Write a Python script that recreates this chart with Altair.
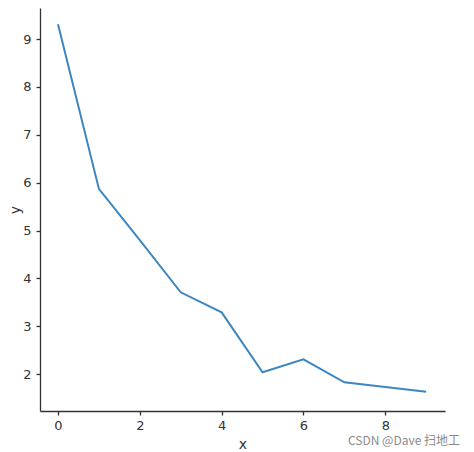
import altair as alt
import pandas as pd

xs = [0, 1, 2, 3, 4, 5, 6, 7, 8, 9]
ys = [9.31, 5.87, 4.80, 3.71, 3.29, 2.04, 2.31, 1.83, 1.73, 1.63]
x_ticks = [0, 2, 4, 6, 8]
y_ticks = [2, 3, 4, 5, 6, 7, 8, 9]
watermark = ["CSDN @Dave 扫地工"]

df = pd.DataFrame({"x": xs, "y": ys})
wm = pd.DataFrame({"t": watermark})

axis_common = dict(
    grid=False, domainColor="#333333", tickColor="#333333", labelColor="#333333",
    titleColor="#333333", labelFont="DejaVu Sans", titleFont="DejaVu Sans",
    labelFontSize=13, titleFontSize=14, titleFontWeight="normal",
    tickSize=4, domainWidth=1.3, tickWidth=1.3,
)

line = alt.Chart(df).mark_line(color="#3d86bf", strokeWidth=2).encode(
    x=alt.X("x:Q", scale=alt.Scale(domain=[-0.44, 9.46], nice=False, zero=False),
            axis=alt.Axis(values=x_ticks, labelPadding=4, titlePadding=5, **axis_common)),
    y=alt.Y("y:Q", scale=alt.Scale(domain=[1.23, 9.65], nice=False, zero=False),
            axis=alt.Axis(values=y_ticks, labelPadding=5, titleX=-18, **axis_common)),
)

text = alt.Chart(wm).mark_text(
    align="right", baseline="alphabetic", font="Noto Sans CJK SC", fontSize=12,
    color="#8a8a8a"
).encode(text="t:N", x=alt.value(420), y=alt.value(437))

chart = (line + text).properties(
    width=405, height=403,
    autosize=alt.AutoSizeParams(type="none"),
    padding={"left": 32, "top": 0, "right": 21, "bottom": 41},
    background="white",
).configure_view(strokeWidth=0, stroke=None)

chart.save("out.html", embed_options={"renderer": "svg", "actions": False})
